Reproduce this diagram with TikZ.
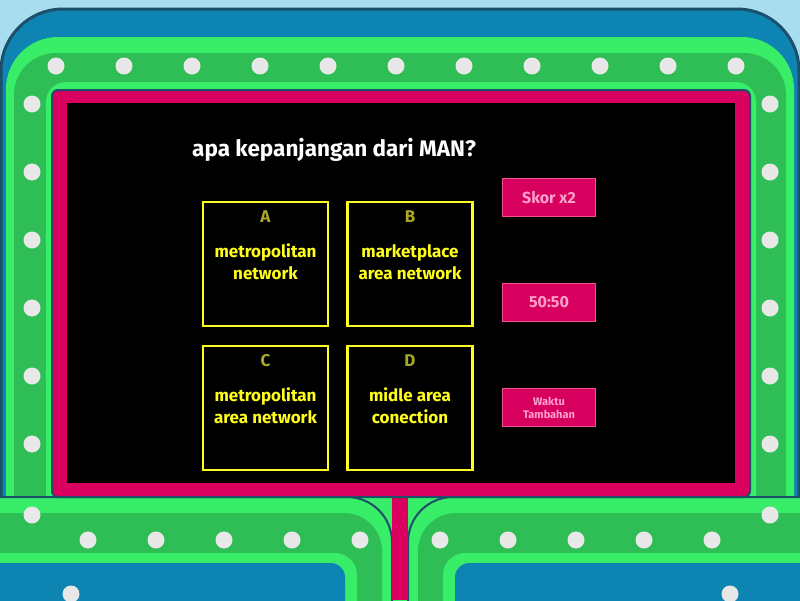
\documentclass[tikz,border=0pt]{standalone}
\usepackage{fontspec}
\setmainfont{Fira Sans}
\begin{document}
\begin{tikzpicture}[x=1pt,y=-1pt,
 dot/.style={circle,fill=dotc,minimum size=17pt,inner sep=0pt},
 ans/.style={draw=yel,line width=2.5pt,minimum width=125pt,minimum height=124pt,inner sep=0pt},
 ansT/.style={text=yel,font=\bfseries\fontsize{17}{22}\selectfont,align=center},
 let/.style={text=olv,font=\bfseries\fontsize{17}{17}\selectfont},
 pbtn/.style={fill=pk,draw=pkb,line width=1.5pt,minimum width=93pt,minimum height=38pt,text=pkt,font=\bfseries\fontsize{16}{17}\selectfont,align=center}]
\definecolor{sky}{HTML}{A8DCEF}
\definecolor{blu}{HTML}{0E84B3}
\definecolor{blo}{HTML}{1D4F6B}
\definecolor{lg}{HTML}{38EE68}
\definecolor{dg}{HTML}{2EBE55}
\definecolor{dotc}{HTML}{E8E8E8}
\definecolor{pink}{HTML}{D9005F}
\definecolor{yel}{HTML}{FFFF1A}
\definecolor{olv}{HTML}{A8A828}
\definecolor{pk}{HTML}{D8005F}
\definecolor{pkb}{HTML}{F05090}
\definecolor{pkt}{HTML}{FFA0CC}
\useasboundingbox (0,0) rectangle (800,600);
\clip (0,0) rectangle (800,600);
\fill[sky] (0,0) rectangle (800,600);
\draw[blo,line width=3pt,fill=blu,rounded corners=62pt] (1,9) rectangle (799,700);
\fill[lg,rounded corners=52pt] (6,37) rectangle (794,700);
\fill[dg,rounded corners=42pt] (14,53) rectangle (786,700);
\fill[lg,rounded corners=20pt] (46,82) rectangle (756,700);
% lower frames
\draw[blo,line width=2pt,fill=lg,rounded corners=45pt] (-100,497) rectangle (392,720);
\draw[blo,line width=2pt,fill=lg,rounded corners=45pt] (408,497) rectangle (900,720);
\fill[dg,rounded corners=38pt] (-100,513) rectangle (382,720);
\fill[dg,rounded corners=38pt] (418,513) rectangle (900,720);
\fill[lg,rounded corners=22pt] (-100,553) rectangle (357,720);
\fill[lg,rounded corners=22pt] (443,553) rectangle (900,720);
\fill[blu,rounded corners=14pt] (-100,563) rectangle (345,720);
\fill[blu,rounded corners=14pt] (455,563) rectangle (900,720);
\fill[pink] (392,490) rectangle (408,600);
\draw[blo,line width=2pt,fill=pink,rounded corners=6pt] (52,90) rectangle (750,497);
\fill[black] (67,103) rectangle (735,483);
% dots
\foreach \i [count=\n] in {56,124,192,260,328,396,464,532,600,668,736} \node[dot] (t\n) at (\i,66) {};
\foreach \j [count=\n] in {104,172,240,308,376,444,515} {\node[dot] (l\n) at (32,\j) {}; \node[dot] (r\n) at (770,\j) {};}
\foreach \i [count=\n] in {88,156,224,292,360} \node[dot] (bl\n) at (\i,540) {};
\foreach \i [count=\n] in {440,508,576,644,712} \node[dot] (br\n) at (\i,540) {};
\node[dot] (bl0) at (71,594) {};
\node[dot] (br0) at (730,594) {};
% question
\node[text=white,font=\fontsize{22.5}{24}\selectfont\bfseries,anchor=west,inner sep=0pt] (q) at (192,150) {apa kepanjangan dari MAN?};
% answers
\node[ans] (A) at (265.5,264) {};
\node[ans] (B) at (410,264) {};
\node[ans] (C) at (265.5,408) {};
\node[ans] (D) at (410,408) {};
\node[let] (La) at (265.5,217) {A};
\node[let] (Lb) at (410,217) {B};
\node[let] (Lc) at (265.5,361) {C};
\node[let] (Ld) at (410,361) {D};
\node[ansT] (ta) at (265.5,262) {metropolitan\\network};
\node[ansT] (tb) at (410,262) {marketplace\\area network};
\node[ansT] (tc) at (265.5,406) {metropolitan\\area network};
\node[ansT] (td) at (410,406) {midle area\\conection};
% buttons
\node[pbtn] (s) at (549,197.5) {Skor x2};
\node[pbtn] (f) at (549,302.5) {50:50};
\node[pbtn,font=\bfseries\fontsize{11}{13}\selectfont] (w) at (549,407.5) {Waktu\\Tambahan};
\end{tikzpicture}
\end{document}
